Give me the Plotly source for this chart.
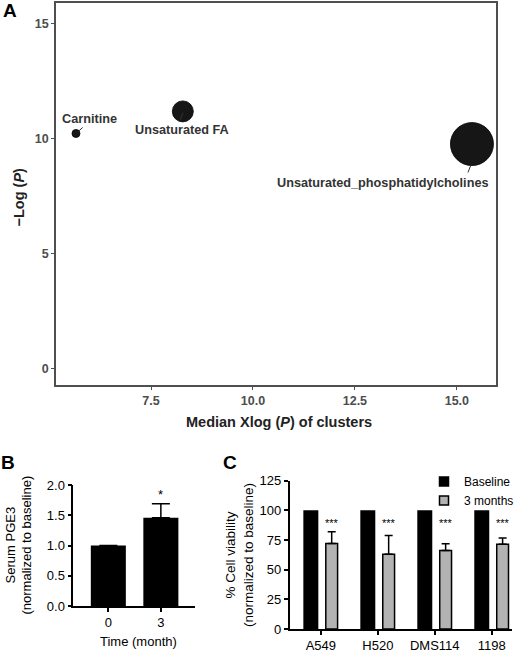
"""Three-panel figure: cluster bubble plot (A), serum PGE3 (B), cell viability (C)."""

import plotly.graph_objects as go

W, H = 520, 659
FONT = "Liberation Sans, Arial, Helvetica, sans-serif"

# ---- panel A: clusters -------------------------------------------------
cluster_names = ["Carnitine", "Unsaturated FA", "Unsaturated_phosphatidylcholines"]
x_median = [5.66, 8.28, 15.37]
neg_log_p = [10.23, 11.19, 9.77]
cluster_size = [8, 21, 43]

# ---- panel B: serum PGE3 ----------------------------------------------
time_labels = ["0", "3"]
pge3_mean = [1.0, 1.46]
pge3_err = [None, 0.23]
pge3_star = [None, "*"]

# ---- panel C: cell viability ------------------------------------------
cell_lines = ["A549", "H520", "DMS114", "1198"]
viab_baseline = [100, 100, 100, 100]
viab_3m = [72.0, 63.0, 66.1, 71.5]
viab_3m_err = [9.9, 15.8, 5.7, 5.3]
viab_star = ["***", "***", "***", "***"]
STAR_Y = 89

# label placement for panel A (pixel offsets from the bubble centre)
LABEL_SHIFT = [(14, 14), (-1, -18.5), (-89, -38.5)]
LEADER = [(2.5, 2.2, 6.7, 6.0), (0.3, -1.3, -2.7, -8.3), (-1.3, -21.7, -4.0, -28.4)]

# bar geometry for panel C (in category units)
BASE_OFF, BASE_W = -0.307, 0.263
M3_OFF, M3_W = 0.087, 0.207
M3_CENTER = M3_OFF + M3_W / 2


def px(x):
    return x / W


def py(y):
    return 1 - y / H


fig = go.Figure()

# ---- A -----------------------------------------------------------------
fig.add_trace(go.Scatter(
    x=x_median, y=neg_log_p, mode="markers",
    marker=dict(size=cluster_size, sizemode="diameter", color="#161616", opacity=1,
                line=dict(color="#000000", width=0.8)),
    xaxis="x", yaxis="y", showlegend=False, hoverinfo="skip",
))

for i, name in enumerate(cluster_names):
    dx, dy = LABEL_SHIFT[i]
    fig.add_annotation(
        x=x_median[i], y=neg_log_p[i], xref="x", yref="y",
        xshift=dx, yshift=dy, showarrow=False,
        text=f"<b>{name}</b>",
        font=dict(family=FONT, size=12.7, color="#333333"),
    )
    x0, y0, x1, y1 = LEADER[i]
    fig.add_shape(
        type="line", xref="x", yref="y",
        xsizemode="pixel", ysizemode="pixel",
        xanchor=x_median[i], yanchor=neg_log_p[i],
        x0=x0, y0=y0, x1=x1, y1=y1,
        line=dict(color="#333333", width=1),
    )

# ---- B -----------------------------------------------------------------
fig.add_trace(go.Bar(
    x=time_labels, y=pge3_mean, width=0.667,
    marker=dict(color="#000000", line=dict(width=0)),
    error_y=dict(type="data", array=pge3_err, arrayminus=[0, 0], symmetric=False,
                 color="#000000", thickness=1.5, width=9),
    xaxis="x2", yaxis="y2", showlegend=False, hoverinfo="skip",
))
for i, s in enumerate(pge3_star):
    if s:
        fig.add_annotation(
            x=i, y=pge3_mean[i] + pge3_err[i] + 0.16, xref="x2", yref="y2",
            text=s, showarrow=False, font=dict(family=FONT, size=13, color="#000000"),
        )

# ---- C -----------------------------------------------------------------
fig.add_trace(go.Bar(
    x=cell_lines, y=viab_baseline, name="Baseline",
    offset=BASE_OFF, width=BASE_W,
    marker=dict(color="#000000", line=dict(width=0)),
    xaxis="x3", yaxis="y3", showlegend=False, hoverinfo="skip",
))
fig.add_trace(go.Bar(
    x=cell_lines, y=viab_3m, name="3 months",
    offset=M3_OFF, width=M3_W,
    marker=dict(color="#b3b3b3", line=dict(color="#000000", width=1.5)),
    error_y=dict(type="data", array=viab_3m_err, arrayminus=[0] * len(viab_3m),
                 symmetric=False, color="#000000", thickness=1.5, width=4),
    xaxis="x3", yaxis="y3", showlegend=False, hoverinfo="skip",
))
# legend entries with small square swatches
fig.add_trace(go.Scatter(
    x=[None], y=[None], mode="markers", name="Baseline",
    marker=dict(symbol="square", size=9, color="#000000", line=dict(color="#000000", width=1.5)),
    xaxis="x3", yaxis="y3",
))
fig.add_trace(go.Scatter(
    x=[None], y=[None], mode="markers", name="3 months",
    marker=dict(symbol="square", size=9, color="#b3b3b3", line=dict(color="#000000", width=1.5)),
    xaxis="x3", yaxis="y3",
))
for i, s in enumerate(viab_star):
    fig.add_annotation(
        x=i + M3_CENTER, y=STAR_Y, xref="x3", yref="y3",
        text=s, showarrow=False, font=dict(family=FONT, size=11, color="#000000"),
    )

# ---- axes --------------------------------------------------------------
a_axis = dict(showline=True, mirror=True, linecolor="#4f4f4f", linewidth=1.5,
              ticks="outside", ticklen=3, tickwidth=1.2, tickcolor="#4f4f4f",
              showgrid=False, zeroline=False, automargin=False,
              tickfont=dict(family=FONT, size=12.5, color="#4d4d4d", weight="bold"))
bc_axis = dict(showline=True, linecolor="#000000", linewidth=1.5,
               ticks="outside", ticklen=4, tickwidth=1.5, tickcolor="#000000",
               showgrid=False, zeroline=False, automargin=False,
               tickfont=dict(family=FONT, size=13, color="#000000"))

fig.update_layout(
    template="none",
    width=W, height=H, autosize=False,
    margin=dict(l=0, r=0, t=0, b=0, pad=0),
    paper_bgcolor="white", plot_bgcolor="rgba(0,0,0,0)",
    barmode="overlay",
    font=dict(family=FONT, color="#000000"),
    xaxis=dict(a_axis, domain=[px(56), px(496)], range=[5.17, 15.96],
               tickvals=[7.5, 10, 12.5, 15], tickformat=".1f", anchor="y"),
    yaxis=dict(a_axis, domain=[py(385), py(3)], range=[-0.7, 15.9],
               tickvals=[0, 5, 10, 15], anchor="x"),
    xaxis2=dict(bc_axis, domain=[px(73.3), px(195)], type="category",
                range=[-0.667, 1.65], anchor="y2"),
    yaxis2=dict(bc_axis, domain=[py(606), py(485)], range=[0, 2],
                dtick=0.5, tickformat=".1f", anchor="x2"),
    xaxis3=dict(bc_axis, domain=[px(289.5), px(511.7)], type="category",
                range=[-0.55, 3.35], anchor="y3"),
    yaxis3=dict(bc_axis, domain=[py(629), py(480.7)], range=[0, 125],
                dtick=25, anchor="x3"),
    legend=dict(x=px(424), y=py(467), xanchor="left", yanchor="top",
                font=dict(family=FONT, size=12, color="#000000"),
                itemwidth=30, tracegroupgap=0, bgcolor="rgba(0,0,0,0)"),
)

# ---- titles and panel letters -----------------------------------------
texts = [
    ("<b>A</b>", 9.5, 10.5, 19, 0, "#000000"),
    ("<b>B</b>", 8, 462, 19, 0, "#000000"),
    ("<b>C</b>", 230, 462, 19, 0, "#000000"),
    ("<b>\u2212Log (<i>P</i>)</b>", 18, 197.5, 14.5, -90, "#222222"),
    ("<b>Median Xlog (<i>P</i>) of clusters</b>", 278.5, 422, 14.5, 0, "#222222"),
    ("Serum PGE3<br>(normalized to baseline)", 18.5, 545, 13, -90, "#000000"),
    ("Time (month)", 138, 641, 13, 0, "#000000"),
    ("% Cell viability<br>(normalized to baseline)", 239, 555, 13.5, -90, "#000000"),
]
for text, x, y, size, angle, color in texts:
    fig.add_annotation(
        x=px(x), y=py(y), xref="paper", yref="paper", text=text,
        showarrow=False, textangle=angle, xanchor="center", yanchor="middle",
        font=dict(family=FONT, size=size, color=color),
    )

# the page's default body margin would push the 520x659 figure off the window
fig.write_html("out.html", config={"displayModeBar": False},
               post_script="document.body.style.margin = '0';")
